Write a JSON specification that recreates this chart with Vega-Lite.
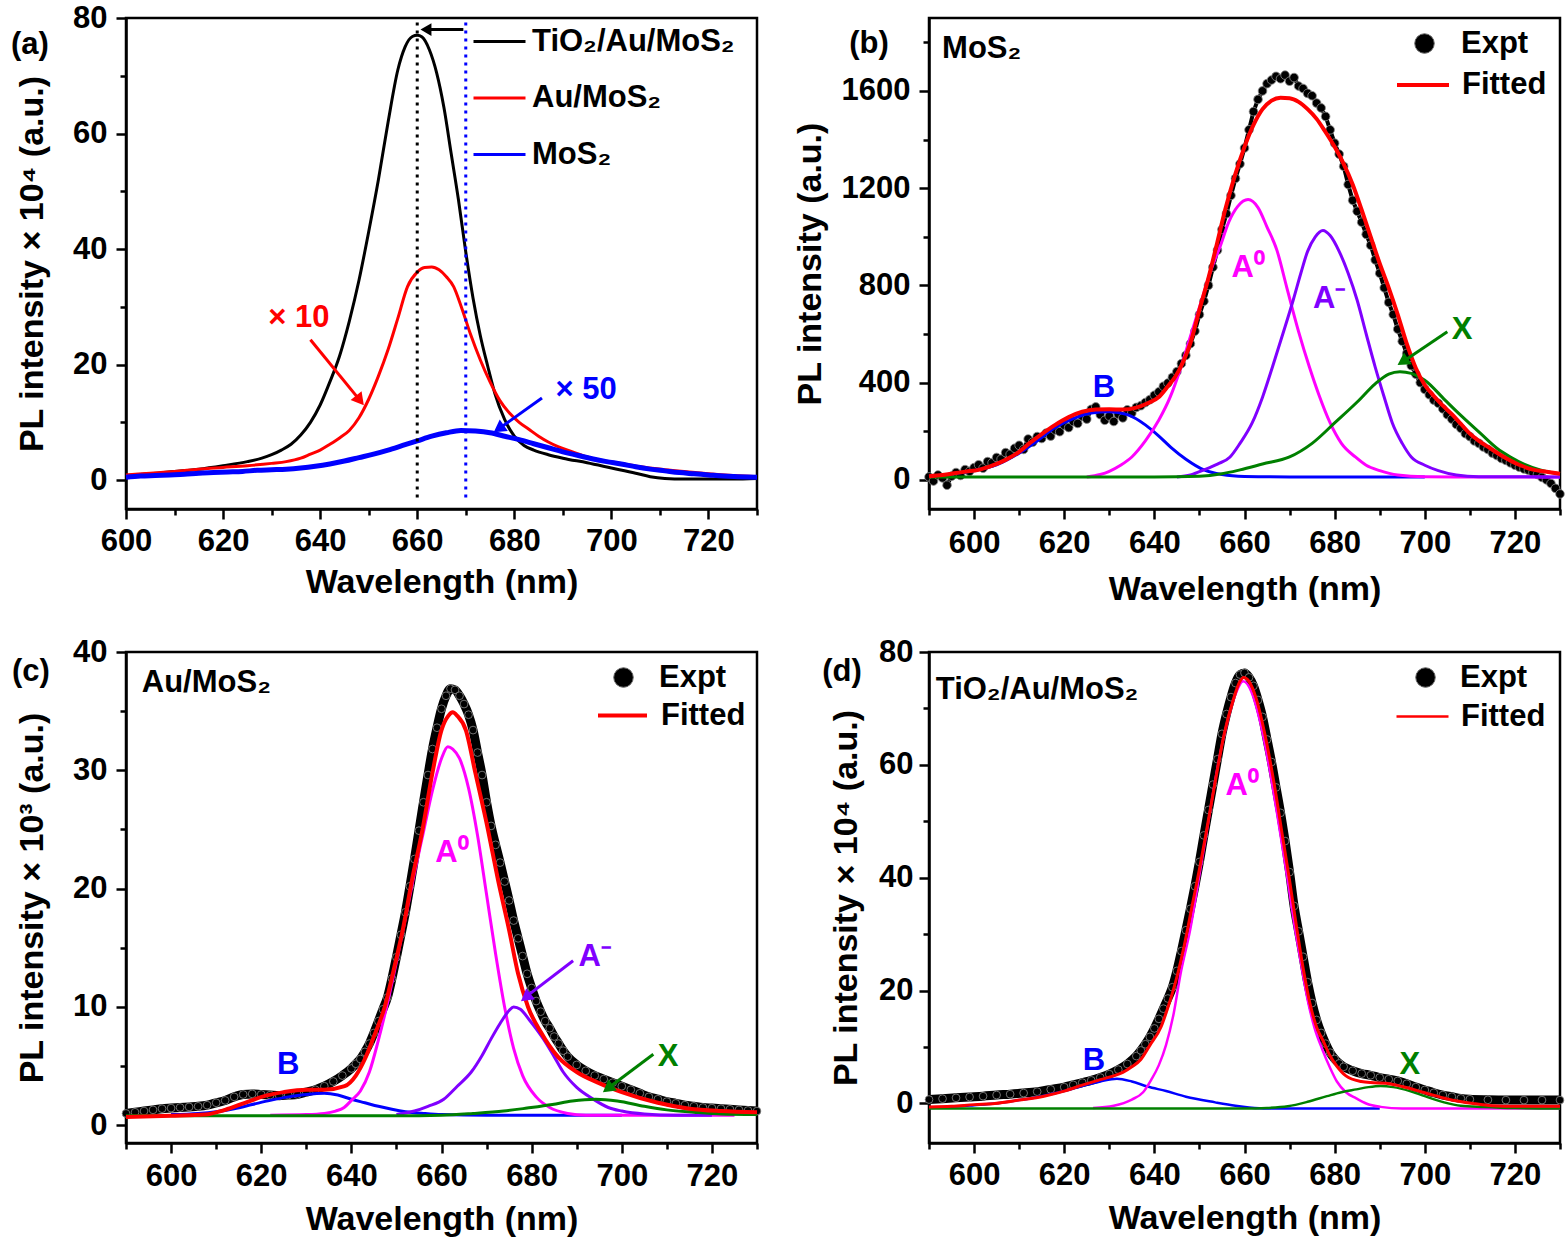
{
"$schema": "https://vega.github.io/schema/vega-lite/v6.json",
"background": "white",
"padding": {"left": 9, "top": 0, "right": 0, "bottom": 0},
"config": {
 "font": "Liberation Sans",
 "view": {"stroke": "black", "strokeWidth": 2.5},
 "axis": {"domainColor": "black", "domainWidth": 2.5, "tickColor": "black", "tickWidth": 2.5, "tickSize": 10, "labelFont": "Liberation Sans", "labelFontWeight": "bold", "labelFontSize": 31, "labelColor": "black", "titleFont": "Liberation Sans", "titleFontWeight": "bold", "titleColor": "black", "grid": false, "labelFlush": false, "labelOverlap": false},
 "axisX": {"titleFontSize": 34},
 "axisY": {"titleFontSize": 34},
 "legend": {"labelFont": "Liberation Sans", "labelFontWeight": "bold", "labelFontSize": 31, "labelColor": "black", "labelLimit": 400, "padding": 0},
 "text": {"font": "Liberation Sans", "fontWeight": "bold", "fontSize": 31}
},
"datasets": {
 "a_lines": [
  {"wl":600,"val":0.8,"sample":"TiO₂/Au/MoS₂"},{"wl":605,"val":1.1,"sample":"TiO₂/Au/MoS₂"},{"wl":610,"val":1.5,"sample":"TiO₂/Au/MoS₂"},{"wl":615,"val":1.9,"sample":"TiO₂/Au/MoS₂"},{"wl":620,"val":2.5,"sample":"TiO₂/Au/MoS₂"},{"wl":625,"val":3.2,"sample":"TiO₂/Au/MoS₂"},{"wl":628,"val":3.8,"sample":"TiO₂/Au/MoS₂"},{"wl":630,"val":4.4,"sample":"TiO₂/Au/MoS₂"},{"wl":632,"val":5.2,"sample":"TiO₂/Au/MoS₂"},{"wl":634,"val":6.2,"sample":"TiO₂/Au/MoS₂"},{"wl":636,"val":7.8,"sample":"TiO₂/Au/MoS₂"},{"wl":638,"val":10.0,"sample":"TiO₂/Au/MoS₂"},{"wl":640,"val":13.0,"sample":"TiO₂/Au/MoS₂"},{"wl":642,"val":17.0,"sample":"TiO₂/Au/MoS₂"},{"wl":644,"val":21.5,"sample":"TiO₂/Au/MoS₂"},{"wl":646,"val":27.5,"sample":"TiO₂/Au/MoS₂"},{"wl":648,"val":34.6,"sample":"TiO₂/Au/MoS₂"},{"wl":650,"val":43.0,"sample":"TiO₂/Au/MoS₂"},{"wl":652,"val":52.0,"sample":"TiO₂/Au/MoS₂"},{"wl":654,"val":62.0,"sample":"TiO₂/Au/MoS₂"},{"wl":656,"val":71.0,"sample":"TiO₂/Au/MoS₂"},{"wl":657.5,"val":75.0,"sample":"TiO₂/Au/MoS₂"},{"wl":659,"val":76.8,"sample":"TiO₂/Au/MoS₂"},{"wl":660,"val":77.0,"sample":"TiO₂/Au/MoS₂"},{"wl":661,"val":76.7,"sample":"TiO₂/Au/MoS₂"},{"wl":662.5,"val":74.5,"sample":"TiO₂/Au/MoS₂"},{"wl":664,"val":70.5,"sample":"TiO₂/Au/MoS₂"},{"wl":665.5,"val":64.5,"sample":"TiO₂/Au/MoS₂"},{"wl":667,"val":56.5,"sample":"TiO₂/Au/MoS₂"},{"wl":668.5,"val":48.5,"sample":"TiO₂/Au/MoS₂"},{"wl":670,"val":39.5,"sample":"TiO₂/Au/MoS₂"},{"wl":671.5,"val":31.5,"sample":"TiO₂/Au/MoS₂"},{"wl":673,"val":25.0,"sample":"TiO₂/Au/MoS₂"},{"wl":674.5,"val":19.8,"sample":"TiO₂/Au/MoS₂"},{"wl":676,"val":15.0,"sample":"TiO₂/Au/MoS₂"},{"wl":678,"val":10.5,"sample":"TiO₂/Au/MoS₂"},{"wl":680,"val":7.6,"sample":"TiO₂/Au/MoS₂"},{"wl":682,"val":6.0,"sample":"TiO₂/Au/MoS₂"},{"wl":684,"val":5.2,"sample":"TiO₂/Au/MoS₂"},{"wl":687,"val":4.4,"sample":"TiO₂/Au/MoS₂"},{"wl":690,"val":3.8,"sample":"TiO₂/Au/MoS₂"},{"wl":695,"val":3.0,"sample":"TiO₂/Au/MoS₂"},{"wl":700,"val":2.1,"sample":"TiO₂/Au/MoS₂"},{"wl":705,"val":1.2,"sample":"TiO₂/Au/MoS₂"},{"wl":708,"val":0.6,"sample":"TiO₂/Au/MoS₂"},{"wl":711,"val":0.3,"sample":"TiO₂/Au/MoS₂"},{"wl":715,"val":0.2,"sample":"TiO₂/Au/MoS₂"},{"wl":720,"val":0.2,"sample":"TiO₂/Au/MoS₂"},{"wl":725,"val":0.2,"sample":"TiO₂/Au/MoS₂"},{"wl":730,"val":0.3,"sample":"TiO₂/Au/MoS₂"},
  {"wl":600,"val":0.9,"sample":"Au/MoS₂"},{"wl":605,"val":1.2,"sample":"Au/MoS₂"},{"wl":610,"val":1.5,"sample":"Au/MoS₂"},{"wl":615,"val":1.9,"sample":"Au/MoS₂"},{"wl":620,"val":2.2,"sample":"Au/MoS₂"},{"wl":625,"val":2.5,"sample":"Au/MoS₂"},{"wl":630,"val":2.9,"sample":"Au/MoS₂"},{"wl":633,"val":3.2,"sample":"Au/MoS₂"},{"wl":636,"val":3.8,"sample":"Au/MoS₂"},{"wl":638,"val":4.5,"sample":"Au/MoS₂"},{"wl":640,"val":5.2,"sample":"Au/MoS₂"},{"wl":642,"val":6.2,"sample":"Au/MoS₂"},{"wl":644,"val":7.3,"sample":"Au/MoS₂"},{"wl":646,"val":8.6,"sample":"Au/MoS₂"},{"wl":648,"val":10.8,"sample":"Au/MoS₂"},{"wl":650,"val":14.0,"sample":"Au/MoS₂"},{"wl":652,"val":18.0,"sample":"Au/MoS₂"},{"wl":654,"val":22.6,"sample":"Au/MoS₂"},{"wl":656,"val":28.0,"sample":"Au/MoS₂"},{"wl":658,"val":33.5,"sample":"Au/MoS₂"},{"wl":660,"val":36.0,"sample":"Au/MoS₂"},{"wl":661.5,"val":36.8,"sample":"Au/MoS₂"},{"wl":663,"val":36.9,"sample":"Au/MoS₂"},{"wl":664.5,"val":36.4,"sample":"Au/MoS₂"},{"wl":666,"val":35.2,"sample":"Au/MoS₂"},{"wl":667.5,"val":33.5,"sample":"Au/MoS₂"},{"wl":669,"val":30.2,"sample":"Au/MoS₂"},{"wl":671,"val":25.2,"sample":"Au/MoS₂"},{"wl":673,"val":20.8,"sample":"Au/MoS₂"},{"wl":675,"val":17.0,"sample":"Au/MoS₂"},{"wl":677,"val":13.8,"sample":"Au/MoS₂"},{"wl":679,"val":11.6,"sample":"Au/MoS₂"},{"wl":681,"val":10.0,"sample":"Au/MoS₂"},{"wl":683,"val":8.8,"sample":"Au/MoS₂"},{"wl":685,"val":7.6,"sample":"Au/MoS₂"},{"wl":687,"val":6.6,"sample":"Au/MoS₂"},{"wl":689,"val":5.8,"sample":"Au/MoS₂"},{"wl":692,"val":4.9,"sample":"Au/MoS₂"},{"wl":695,"val":4.0,"sample":"Au/MoS₂"},{"wl":698,"val":3.4,"sample":"Au/MoS₂"},{"wl":702,"val":2.9,"sample":"Au/MoS₂"},{"wl":706,"val":2.3,"sample":"Au/MoS₂"},{"wl":711,"val":1.8,"sample":"Au/MoS₂"},{"wl":716,"val":1.4,"sample":"Au/MoS₂"},{"wl":720,"val":1.1,"sample":"Au/MoS₂"},{"wl":725,"val":0.8,"sample":"Au/MoS₂"},{"wl":730,"val":0.6,"sample":"Au/MoS₂"},
  {"wl":600,"val":0.5,"sample":"MoS₂"},{"wl":603,"val":0.7,"sample":"MoS₂"},{"wl":606,"val":0.8,"sample":"MoS₂"},{"wl":609,"val":0.9,"sample":"MoS₂"},{"wl":612,"val":1.0,"sample":"MoS₂"},{"wl":615,"val":1.2,"sample":"MoS₂"},{"wl":618,"val":1.3,"sample":"MoS₂"},{"wl":621,"val":1.4,"sample":"MoS₂"},{"wl":624,"val":1.5,"sample":"MoS₂"},{"wl":627,"val":1.7,"sample":"MoS₂"},{"wl":630,"val":1.8,"sample":"MoS₂"},{"wl":633,"val":1.9,"sample":"MoS₂"},{"wl":636,"val":2.1,"sample":"MoS₂"},{"wl":639,"val":2.4,"sample":"MoS₂"},{"wl":642,"val":2.8,"sample":"MoS₂"},{"wl":645,"val":3.3,"sample":"MoS₂"},{"wl":648,"val":3.9,"sample":"MoS₂"},{"wl":651,"val":4.5,"sample":"MoS₂"},{"wl":654,"val":5.2,"sample":"MoS₂"},{"wl":657,"val":6.0,"sample":"MoS₂"},{"wl":660,"val":6.8,"sample":"MoS₂"},{"wl":663,"val":7.6,"sample":"MoS₂"},{"wl":666,"val":8.2,"sample":"MoS₂"},{"wl":669,"val":8.6,"sample":"MoS₂"},{"wl":672,"val":8.5,"sample":"MoS₂"},{"wl":675,"val":8.2,"sample":"MoS₂"},{"wl":678,"val":7.6,"sample":"MoS₂"},{"wl":681,"val":7.0,"sample":"MoS₂"},{"wl":684,"val":6.3,"sample":"MoS₂"},{"wl":687,"val":5.6,"sample":"MoS₂"},{"wl":690,"val":4.9,"sample":"MoS₂"},{"wl":693,"val":4.3,"sample":"MoS₂"},{"wl":696,"val":3.7,"sample":"MoS₂"},{"wl":699,"val":3.2,"sample":"MoS₂"},{"wl":702,"val":2.8,"sample":"MoS₂"},{"wl":705,"val":2.3,"sample":"MoS₂"},{"wl":708,"val":1.9,"sample":"MoS₂"},{"wl":711,"val":1.6,"sample":"MoS₂"},{"wl":714,"val":1.3,"sample":"MoS₂"},{"wl":717,"val":1.1,"sample":"MoS₂"},{"wl":720,"val":0.9,"sample":"MoS₂"},{"wl":723,"val":0.7,"sample":"MoS₂"},{"wl":726,"val":0.6,"sample":"MoS₂"},{"wl":730,"val":0.5,"sample":"MoS₂"}
 ],
 "b_expt": [
  {"wl":590,"val":12},{"wl":591,"val":-5},{"wl":592,"val":20},{"wl":593,"val":8},{"wl":594,"val":-22},{"wl":595,"val":15},{"wl":596,"val":30},{"wl":597,"val":18},{"wl":598,"val":42},{"wl":599,"val":35},{"wl":600,"val":50},{"wl":601,"val":62},{"wl":602,"val":48},{"wl":603,"val":75},{"wl":604,"val":70},{"wl":605,"val":92},{"wl":606,"val":85},{"wl":607,"val":112},{"wl":608,"val":105},{"wl":609,"val":130},{"wl":610,"val":142},{"wl":611,"val":125},{"wl":612,"val":168},{"wl":613,"val":155},{"wl":614,"val":178},{"wl":615,"val":170},{"wl":616,"val":192},{"wl":617,"val":180},{"wl":618,"val":205},{"wl":619,"val":198},{"wl":620,"val":225},{"wl":621,"val":215},{"wl":622,"val":240},{"wl":623,"val":232},{"wl":624,"val":262},{"wl":625,"val":250},{"wl":626,"val":290},{"wl":627,"val":300},{"wl":628,"val":268},{"wl":629,"val":245},{"wl":630,"val":262},{"wl":631,"val":240},{"wl":632,"val":270},{"wl":633,"val":255},{"wl":634,"val":288},{"wl":635,"val":275},{"wl":636,"val":298},{"wl":637,"val":305},{"wl":638,"val":318},{"wl":639,"val":330},{"wl":640,"val":348},{"wl":641,"val":362},{"wl":642,"val":385},{"wl":643,"val":398},{"wl":644,"val":422},{"wl":645,"val":445},{"wl":646,"val":478},{"wl":647,"val":512},{"wl":648,"val":560},{"wl":649,"val":612},{"wl":650,"val":680},{"wl":651,"val":735},{"wl":652,"val":800},{"wl":653,"val":875},{"wl":654,"val":945},{"wl":655,"val":1030},{"wl":656,"val":1095},{"wl":657,"val":1170},{"wl":658,"val":1240},{"wl":659,"val":1300},{"wl":660,"val":1365},{"wl":661,"val":1440},{"wl":662,"val":1515},{"wl":663,"val":1565},{"wl":664,"val":1600},{"wl":665,"val":1630},{"wl":666,"val":1645},{"wl":667,"val":1660},{"wl":668,"val":1650},{"wl":669,"val":1665},{"wl":670,"val":1640},{"wl":671,"val":1655},{"wl":672,"val":1620},{"wl":673,"val":1610},{"wl":674,"val":1590},{"wl":675,"val":1580},{"wl":676,"val":1550},{"wl":677,"val":1530},{"wl":678,"val":1495},{"wl":679,"val":1440},{"wl":680,"val":1385},{"wl":681,"val":1340},{"wl":682,"val":1290},{"wl":683,"val":1215},{"wl":684,"val":1150},{"wl":685,"val":1105},{"wl":686,"val":1060},{"wl":687,"val":1010},{"wl":688,"val":965},{"wl":689,"val":905},{"wl":690,"val":850},{"wl":691,"val":790},{"wl":692,"val":730},{"wl":693,"val":680},{"wl":694,"val":620},{"wl":695,"val":570},{"wl":696,"val":520},{"wl":697,"val":470},{"wl":698,"val":435},{"wl":699,"val":400},{"wl":700,"val":372},{"wl":701,"val":350},{"wl":702,"val":328},{"wl":703,"val":315},{"wl":704,"val":292},{"wl":705,"val":268},{"wl":706,"val":250},{"wl":707,"val":228},{"wl":708,"val":212},{"wl":709,"val":190},{"wl":710,"val":178},{"wl":711,"val":160},{"wl":712,"val":150},{"wl":713,"val":135},{"wl":714,"val":125},{"wl":715,"val":110},{"wl":716,"val":100},{"wl":717,"val":88},{"wl":718,"val":80},{"wl":719,"val":70},{"wl":720,"val":60},{"wl":721,"val":52},{"wl":722,"val":45},{"wl":723,"val":40},{"wl":724,"val":30},{"wl":725,"val":22},{"wl":726,"val":10},{"wl":727,"val":0},{"wl":728,"val":-15},{"wl":729,"val":-35},{"wl":730,"val":-58}
 ],
 "b_fit": [
  {"wl":590,"val":15,"comp":"Fitted"},{"wl":593,"val":20,"comp":"Fitted"},{"wl":596,"val":28,"comp":"Fitted"},{"wl":599,"val":36,"comp":"Fitted"},{"wl":601,"val":41,"comp":"Fitted"},{"wl":604,"val":58,"comp":"Fitted"},{"wl":607,"val":82,"comp":"Fitted"},{"wl":610,"val":115,"comp":"Fitted"},{"wl":612.4,"val":152,"comp":"Fitted"},{"wl":615,"val":188,"comp":"Fitted"},{"wl":618,"val":226,"comp":"Fitted"},{"wl":621,"val":258,"comp":"Fitted"},{"wl":624,"val":280,"comp":"Fitted"},{"wl":627,"val":289,"comp":"Fitted"},{"wl":630,"val":290,"comp":"Fitted"},{"wl":633,"val":289,"comp":"Fitted"},{"wl":636,"val":297,"comp":"Fitted"},{"wl":638.5,"val":315,"comp":"Fitted"},{"wl":641,"val":341,"comp":"Fitted"},{"wl":643,"val":385,"comp":"Fitted"},{"wl":644.6,"val":423,"comp":"Fitted"},{"wl":646.5,"val":490,"comp":"Fitted"},{"wl":648,"val":562,"comp":"Fitted"},{"wl":650,"val":700,"comp":"Fitted"},{"wl":652,"val":830,"comp":"Fitted"},{"wl":654,"val":980,"comp":"Fitted"},{"wl":655.7,"val":1110,"comp":"Fitted"},{"wl":658,"val":1260,"comp":"Fitted"},{"wl":660,"val":1370,"comp":"Fitted"},{"wl":662,"val":1460,"comp":"Fitted"},{"wl":664,"val":1525,"comp":"Fitted"},{"wl":666,"val":1560,"comp":"Fitted"},{"wl":668,"val":1572,"comp":"Fitted"},{"wl":670,"val":1570,"comp":"Fitted"},{"wl":672,"val":1555,"comp":"Fitted"},{"wl":674,"val":1525,"comp":"Fitted"},{"wl":676,"val":1485,"comp":"Fitted"},{"wl":678,"val":1430,"comp":"Fitted"},{"wl":680,"val":1370,"comp":"Fitted"},{"wl":682,"val":1300,"comp":"Fitted"},{"wl":684,"val":1215,"comp":"Fitted"},{"wl":686,"val":1110,"comp":"Fitted"},{"wl":688,"val":1000,"comp":"Fitted"},{"wl":690,"val":890,"comp":"Fitted"},{"wl":692,"val":790,"comp":"Fitted"},{"wl":694,"val":680,"comp":"Fitted"},{"wl":696,"val":560,"comp":"Fitted"},{"wl":698,"val":460,"comp":"Fitted"},{"wl":700,"val":390,"comp":"Fitted"},{"wl":702,"val":345,"comp":"Fitted"},{"wl":704,"val":305,"comp":"Fitted"},{"wl":706,"val":270,"comp":"Fitted"},{"wl":708,"val":230,"comp":"Fitted"},{"wl":710,"val":190,"comp":"Fitted"},{"wl":712,"val":160,"comp":"Fitted"},{"wl":714.5,"val":130,"comp":"Fitted"},{"wl":717,"val":100,"comp":"Fitted"},{"wl":720.9,"val":62,"comp":"Fitted"},{"wl":724,"val":42,"comp":"Fitted"},{"wl":727,"val":33,"comp":"Fitted"},{"wl":730,"val":25,"comp":"Fitted"},
  {"wl":590,"val":14,"comp":"B"},{"wl":595,"val":24,"comp":"B"},{"wl":600,"val":38,"comp":"B"},{"wl":605,"val":62,"comp":"B"},{"wl":610,"val":110,"comp":"B"},{"wl":614,"val":160,"comp":"B"},{"wl":618,"val":215,"comp":"B"},{"wl":622,"val":252,"comp":"B"},{"wl":626,"val":275,"comp":"B"},{"wl":630,"val":280,"comp":"B"},{"wl":634,"val":268,"comp":"B"},{"wl":638,"val":226,"comp":"B"},{"wl":641,"val":180,"comp":"B"},{"wl":643.6,"val":135,"comp":"B"},{"wl":647,"val":85,"comp":"B"},{"wl":651,"val":41,"comp":"B"},{"wl":655,"val":22,"comp":"B"},{"wl":660,"val":14,"comp":"B"},{"wl":670,"val":12,"comp":"B"},{"wl":700,"val":12,"comp":"B"},
  {"wl":625,"val":12,"comp":"A⁰"},{"wl":628,"val":22,"comp":"A⁰"},{"wl":630,"val":35,"comp":"A⁰"},{"wl":632.5,"val":60,"comp":"A⁰"},{"wl":635,"val":94,"comp":"A⁰"},{"wl":638,"val":160,"comp":"A⁰"},{"wl":641,"val":246,"comp":"A⁰"},{"wl":643.5,"val":340,"comp":"A⁰"},{"wl":645.7,"val":452,"comp":"A⁰"},{"wl":648,"val":590,"comp":"A⁰"},{"wl":650.5,"val":739,"comp":"A⁰"},{"wl":652.5,"val":860,"comp":"A⁰"},{"wl":654.6,"val":960,"comp":"A⁰"},{"wl":656.5,"val":1060,"comp":"A⁰"},{"wl":658.5,"val":1125,"comp":"A⁰"},{"wl":660.8,"val":1153,"comp":"A⁰"},{"wl":663,"val":1120,"comp":"A⁰"},{"wl":665,"val":1040,"comp":"A⁰"},{"wl":667.2,"val":944,"comp":"A⁰"},{"wl":669.4,"val":790,"comp":"A⁰"},{"wl":672,"val":610,"comp":"A⁰"},{"wl":674.4,"val":464,"comp":"A⁰"},{"wl":676.5,"val":350,"comp":"A⁰"},{"wl":679,"val":234,"comp":"A⁰"},{"wl":681.5,"val":150,"comp":"A⁰"},{"wl":684.6,"val":94,"comp":"A⁰"},{"wl":687,"val":60,"comp":"A⁰"},{"wl":690,"val":38,"comp":"A⁰"},{"wl":694,"val":20,"comp":"A⁰"},{"wl":700,"val":13,"comp":"A⁰"},{"wl":710,"val":12,"comp":"A⁰"},{"wl":730,"val":12,"comp":"A⁰"},
  {"wl":645,"val":12,"comp":"A⁻"},{"wl":648,"val":20,"comp":"A⁻"},{"wl":651,"val":41,"comp":"A⁻"},{"wl":654,"val":65,"comp":"A⁻"},{"wl":656.8,"val":94,"comp":"A⁻"},{"wl":659,"val":150,"comp":"A⁻"},{"wl":661.7,"val":234,"comp":"A⁻"},{"wl":664,"val":340,"comp":"A⁻"},{"wl":666.2,"val":464,"comp":"A⁻"},{"wl":668.5,"val":600,"comp":"A⁻"},{"wl":670.8,"val":739,"comp":"A⁻"},{"wl":672.5,"val":850,"comp":"A⁻"},{"wl":674,"val":940,"comp":"A⁻"},{"wl":675.7,"val":1000,"comp":"A⁻"},{"wl":677.4,"val":1026,"comp":"A⁻"},{"wl":679,"val":1005,"comp":"A⁻"},{"wl":681,"val":940,"comp":"A⁻"},{"wl":683,"val":850,"comp":"A⁻"},{"wl":685,"val":739,"comp":"A⁻"},{"wl":687,"val":600,"comp":"A⁻"},{"wl":689,"val":464,"comp":"A⁻"},{"wl":691,"val":340,"comp":"A⁻"},{"wl":692.8,"val":234,"comp":"A⁻"},{"wl":695,"val":150,"comp":"A⁻"},{"wl":697,"val":94,"comp":"A⁻"},{"wl":700,"val":60,"comp":"A⁻"},{"wl":703,"val":38,"comp":"A⁻"},{"wl":707,"val":20,"comp":"A⁻"},{"wl":712,"val":13,"comp":"A⁻"},{"wl":730,"val":12,"comp":"A⁻"},
  {"wl":590,"val":12,"comp":"X"},{"wl":640,"val":12,"comp":"X"},{"wl":650,"val":15,"comp":"X"},{"wl":655,"val":25,"comp":"X"},{"wl":659,"val":41,"comp":"X"},{"wl":664,"val":65,"comp":"X"},{"wl":670,"val":94,"comp":"X"},{"wl":675,"val":150,"comp":"X"},{"wl":680,"val":234,"comp":"X"},{"wl":685,"val":320,"comp":"X"},{"wl":689,"val":395,"comp":"X"},{"wl":692,"val":435,"comp":"X"},{"wl":694.5,"val":445,"comp":"X"},{"wl":697,"val":438,"comp":"X"},{"wl":700,"val":410,"comp":"X"},{"wl":704.5,"val":328,"comp":"X"},{"wl":708,"val":265,"comp":"X"},{"wl":712.3,"val":192,"comp":"X"},{"wl":716,"val":130,"comp":"X"},{"wl":719,"val":94,"comp":"X"},{"wl":722,"val":65,"comp":"X"},{"wl":725.6,"val":41,"comp":"X"},{"wl":728,"val":30,"comp":"X"},{"wl":730,"val":25,"comp":"X"}
 ],
 "c_expt": [
  {"wl":590,"val":1.0},{"wl":592,"val":1.1},{"wl":594,"val":1.2},{"wl":596,"val":1.3},{"wl":598,"val":1.4},{"wl":600,"val":1.45},{"wl":602,"val":1.5},{"wl":604,"val":1.55},{"wl":606,"val":1.6},{"wl":608,"val":1.7},{"wl":610,"val":1.9},{"wl":612,"val":2.1},{"wl":614,"val":2.4},{"wl":616,"val":2.6},{"wl":618,"val":2.65},{"wl":620,"val":2.6},{"wl":622,"val":2.55},{"wl":624,"val":2.5},{"wl":626,"val":2.55},{"wl":628,"val":2.6},{"wl":630,"val":2.8},{"wl":632,"val":3.0},{"wl":634,"val":3.3},{"wl":636,"val":3.7},{"wl":638,"val":4.2},{"wl":640,"val":4.8},{"wl":641,"val":5.2},{"wl":642,"val":5.6},{"wl":643,"val":6.2},{"wl":644,"val":6.9},{"wl":645,"val":7.8},{"wl":646,"val":8.8},{"wl":647,"val":9.8},{"wl":648,"val":10.8},{"wl":649,"val":12.4},{"wl":650,"val":14.2},{"wl":651,"val":16.1},{"wl":652,"val":18.0},{"wl":653,"val":20.2},{"wl":654,"val":22.5},{"wl":655,"val":24.9},{"wl":656,"val":27.3},{"wl":657,"val":29.6},{"wl":658,"val":31.8},{"wl":659,"val":33.6},{"wl":660,"val":35.2},{"wl":661,"val":36.3},{"wl":662,"val":36.9},{"wl":663,"val":36.8},{"wl":664,"val":36.3},{"wl":665,"val":35.6},{"wl":666,"val":34.7},{"wl":667,"val":33.4},{"wl":668,"val":31.5},{"wl":669,"val":29.6},{"wl":670,"val":27.3},{"wl":671,"val":25.3},{"wl":672,"val":23.7},{"wl":673,"val":22.2},{"wl":674,"val":20.6},{"wl":675,"val":19.0},{"wl":676,"val":17.3},{"wl":677,"val":15.8},{"wl":678,"val":14.3},{"wl":679,"val":12.8},{"wl":680,"val":11.6},{"wl":681,"val":10.5},{"wl":682,"val":9.6},{"wl":683,"val":8.8},{"wl":684,"val":8.2},{"wl":685,"val":7.5},{"wl":686,"val":6.9},{"wl":687,"val":6.3},{"wl":688,"val":5.8},{"wl":690,"val":5.1},{"wl":692,"val":4.6},{"wl":694,"val":4.2},{"wl":696,"val":3.9},{"wl":698,"val":3.6},{"wl":700,"val":3.3},{"wl":702,"val":3.0},{"wl":704,"val":2.7},{"wl":706,"val":2.4},{"wl":708,"val":2.2},{"wl":710,"val":2.0},{"wl":712,"val":1.85},{"wl":714,"val":1.7},{"wl":716,"val":1.6},{"wl":718,"val":1.5},{"wl":720,"val":1.45},{"wl":722,"val":1.4},{"wl":724,"val":1.35},{"wl":726,"val":1.3},{"wl":728,"val":1.25},{"wl":730,"val":1.2}
 ],
 "c_fit": [
  {"wl":590,"val":0.7,"comp":"Fitted"},{"wl":600,"val":0.8,"comp":"Fitted"},{"wl":607.5,"val":0.9,"comp":"Fitted"},{"wl":612,"val":1.3,"comp":"Fitted"},{"wl":616.4,"val":1.9,"comp":"Fitted"},{"wl":621,"val":2.5,"comp":"Fitted"},{"wl":625,"val":2.8,"comp":"Fitted"},{"wl":630,"val":3.0,"comp":"Fitted"},{"wl":634,"val":3.0,"comp":"Fitted"},{"wl":638.5,"val":3.3,"comp":"Fitted"},{"wl":641,"val":4.2,"comp":"Fitted"},{"wl":643,"val":5.6,"comp":"Fitted"},{"wl":645,"val":7.5,"comp":"Fitted"},{"wl":647.4,"val":10.0,"comp":"Fitted"},{"wl":649.5,"val":13.3,"comp":"Fitted"},{"wl":651.4,"val":16.5,"comp":"Fitted"},{"wl":653.5,"val":20.8,"comp":"Fitted"},{"wl":655.8,"val":25.0,"comp":"Fitted"},{"wl":658,"val":29.8,"comp":"Fitted"},{"wl":660,"val":33.4,"comp":"Fitted"},{"wl":661.5,"val":34.6,"comp":"Fitted"},{"wl":662.5,"val":34.9,"comp":"Fitted"},{"wl":663.5,"val":34.6,"comp":"Fitted"},{"wl":665.4,"val":33.4,"comp":"Fitted"},{"wl":667.5,"val":29.8,"comp":"Fitted"},{"wl":670.3,"val":25.0,"comp":"Fitted"},{"wl":672.5,"val":20.8,"comp":"Fitted"},{"wl":675,"val":16.5,"comp":"Fitted"},{"wl":677,"val":12.8,"comp":"Fitted"},{"wl":679.2,"val":10.0,"comp":"Fitted"},{"wl":682,"val":7.9,"comp":"Fitted"},{"wl":685.8,"val":5.8,"comp":"Fitted"},{"wl":690,"val":4.5,"comp":"Fitted"},{"wl":694.7,"val":3.6,"comp":"Fitted"},{"wl":700,"val":2.8,"comp":"Fitted"},{"wl":708,"val":1.9,"comp":"Fitted"},{"wl":715,"val":1.4,"comp":"Fitted"},{"wl":722,"val":1.2,"comp":"Fitted"},{"wl":730,"val":1.1,"comp":"Fitted"},
  {"wl":600,"val":0.9,"comp":"B"},{"wl":606,"val":1.0,"comp":"B"},{"wl":610,"val":1.15,"comp":"B"},{"wl":614,"val":1.4,"comp":"B"},{"wl":618,"val":1.75,"comp":"B"},{"wl":622,"val":2.1,"comp":"B"},{"wl":626,"val":2.4,"comp":"B"},{"wl":630,"val":2.6,"comp":"B"},{"wl":634,"val":2.7,"comp":"B"},{"wl":637,"val":2.55,"comp":"B"},{"wl":640,"val":2.2,"comp":"B"},{"wl":643,"val":1.9,"comp":"B"},{"wl":646,"val":1.6,"comp":"B"},{"wl":649,"val":1.35,"comp":"B"},{"wl":652,"val":1.15,"comp":"B"},{"wl":656,"val":1.0,"comp":"B"},{"wl":660,"val":0.9,"comp":"B"},{"wl":670,"val":0.85,"comp":"B"},{"wl":700,"val":0.85,"comp":"B"},
  {"wl":622,"val":0.85,"comp":"A⁰"},{"wl":630,"val":0.9,"comp":"A⁰"},{"wl":634,"val":1.0,"comp":"A⁰"},{"wl":636.5,"val":1.2,"comp":"A⁰"},{"wl":638.4,"val":1.5,"comp":"A⁰"},{"wl":640,"val":2.1,"comp":"A⁰"},{"wl":642,"val":2.9,"comp":"A⁰"},{"wl":644,"val":4.5,"comp":"A⁰"},{"wl":646,"val":7.2,"comp":"A⁰"},{"wl":648,"val":10.3,"comp":"A⁰"},{"wl":650,"val":13.8,"comp":"A⁰"},{"wl":652,"val":17.5,"comp":"A⁰"},{"wl":654,"val":21.3,"comp":"A⁰"},{"wl":656,"val":24.8,"comp":"A⁰"},{"wl":658,"val":28.3,"comp":"A⁰"},{"wl":660,"val":31.0,"comp":"A⁰"},{"wl":661.4,"val":32.0,"comp":"A⁰"},{"wl":662.5,"val":31.8,"comp":"A⁰"},{"wl":664,"val":31.0,"comp":"A⁰"},{"wl":666,"val":28.5,"comp":"A⁰"},{"wl":668,"val":24.5,"comp":"A⁰"},{"wl":670,"val":19.5,"comp":"A⁰"},{"wl":672,"val":14.5,"comp":"A⁰"},{"wl":674,"val":10.0,"comp":"A⁰"},{"wl":676,"val":6.5,"comp":"A⁰"},{"wl":678,"val":4.2,"comp":"A⁰"},{"wl":681,"val":2.4,"comp":"A⁰"},{"wl":684,"val":1.5,"comp":"A⁰"},{"wl":688,"val":1.0,"comp":"A⁰"},{"wl":692,"val":0.85,"comp":"A⁰"},{"wl":725,"val":0.85,"comp":"A⁰"},
  {"wl":650,"val":0.9,"comp":"A⁻"},{"wl":654,"val":1.2,"comp":"A⁻"},{"wl":657,"val":1.6,"comp":"A⁻"},{"wl":660.5,"val":2.2,"comp":"A⁻"},{"wl":663.5,"val":3.3,"comp":"A⁻"},{"wl":666.6,"val":4.5,"comp":"A⁻"},{"wl":669,"val":5.9,"comp":"A⁻"},{"wl":671,"val":7.3,"comp":"A⁻"},{"wl":673,"val":8.6,"comp":"A⁻"},{"wl":675,"val":9.7,"comp":"A⁻"},{"wl":676,"val":10.0,"comp":"A⁻"},{"wl":677.5,"val":9.8,"comp":"A⁻"},{"wl":679.5,"val":8.9,"comp":"A⁻"},{"wl":682.6,"val":7.3,"comp":"A⁻"},{"wl":685,"val":5.8,"comp":"A⁻"},{"wl":687,"val":4.5,"comp":"A⁻"},{"wl":690,"val":3.2,"comp":"A⁻"},{"wl":693.7,"val":2.2,"comp":"A⁻"},{"wl":697,"val":1.5,"comp":"A⁻"},{"wl":700,"val":1.2,"comp":"A⁻"},{"wl":705,"val":0.95,"comp":"A⁻"},{"wl":712,"val":0.85,"comp":"A⁻"},{"wl":720,"val":0.85,"comp":"A⁻"},
  {"wl":590,"val":0.8,"comp":"X"},{"wl":650,"val":0.8,"comp":"X"},{"wl":660,"val":0.85,"comp":"X"},{"wl":667,"val":1.0,"comp":"X"},{"wl":673.8,"val":1.2,"comp":"X"},{"wl":679,"val":1.45,"comp":"X"},{"wl":684.6,"val":1.75,"comp":"X"},{"wl":689,"val":2.05,"comp":"X"},{"wl":694.2,"val":2.2,"comp":"X"},{"wl":699,"val":2.05,"comp":"X"},{"wl":705,"val":1.6,"comp":"X"},{"wl":710,"val":1.3,"comp":"X"},{"wl":716,"val":1.1,"comp":"X"},{"wl":722,"val":0.95,"comp":"X"},{"wl":730,"val":0.9,"comp":"X"}
 ],
 "d_expt": [
  {"wl":590,"val":0.7},{"wl":593,"val":0.85},{"wl":596,"val":1.0},{"wl":599,"val":1.15},{"wl":602,"val":1.3},{"wl":605,"val":1.5},{"wl":608,"val":1.65},{"wl":611,"val":1.85},{"wl":614,"val":2.1},{"wl":617,"val":2.5},{"wl":620,"val":2.9},{"wl":622,"val":3.3},{"wl":624,"val":3.7},{"wl":626,"val":4.1},{"wl":628,"val":4.6},{"wl":630,"val":5.2},{"wl":632,"val":6.0},{"wl":634,"val":7.0},{"wl":636,"val":8.4},{"wl":637,"val":9.4},{"wl":638,"val":10.5},{"wl":639,"val":11.8},{"wl":640,"val":13.3},{"wl":641,"val":15.0},{"wl":642,"val":16.8},{"wl":643,"val":18.6},{"wl":644,"val":20.6},{"wl":645,"val":23.5},{"wl":646,"val":27.0},{"wl":647,"val":30.7},{"wl":648,"val":34.5},{"wl":649,"val":38.5},{"wl":650,"val":42.8},{"wl":651,"val":47.5},{"wl":652,"val":52.0},{"wl":653,"val":56.5},{"wl":654,"val":61.0},{"wl":655,"val":65.5},{"wl":656,"val":69.0},{"wl":657,"val":72.0},{"wl":658,"val":74.5},{"wl":659,"val":76.0},{"wl":660,"val":76.3},{"wl":661,"val":75.5},{"wl":662,"val":74.0},{"wl":663,"val":71.5},{"wl":664,"val":68.5},{"wl":665,"val":64.5},{"wl":666,"val":60.5},{"wl":667,"val":56.0},{"wl":668,"val":51.5},{"wl":669,"val":46.5},{"wl":670,"val":41.0},{"wl":671,"val":35.0},{"wl":672,"val":30.5},{"wl":673,"val":26.0},{"wl":674,"val":21.5},{"wl":675,"val":17.8},{"wl":676,"val":14.8},{"wl":677,"val":12.5},{"wl":678,"val":10.6},{"wl":679,"val":9.0},{"wl":680,"val":7.9},{"wl":681,"val":7.1},{"wl":682,"val":6.5},{"wl":684,"val":5.8},{"wl":686,"val":5.3},{"wl":688,"val":5.0},{"wl":690,"val":4.6},{"wl":692,"val":4.3},{"wl":694,"val":4.0},{"wl":696,"val":3.5},{"wl":698,"val":2.9},{"wl":700,"val":2.4},{"wl":702,"val":1.9},{"wl":704,"val":1.5},{"wl":706,"val":1.2},{"wl":708,"val":0.9},{"wl":710,"val":0.75},{"wl":714,"val":0.65},{"wl":718,"val":0.6},{"wl":722,"val":0.6},{"wl":726,"val":0.6},{"wl":730,"val":0.6}
 ],
 "d_fit": [
  {"wl":590,"val":-0.6,"comp":"Fitted"},{"wl":595,"val":-0.5,"comp":"Fitted"},{"wl":600,"val":-0.2,"comp":"Fitted"},{"wl":604.6,"val":0.0,"comp":"Fitted"},{"wl":610,"val":0.6,"comp":"Fitted"},{"wl":615.5,"val":1.3,"comp":"Fitted"},{"wl":620,"val":2.2,"comp":"Fitted"},{"wl":624.2,"val":3.3,"comp":"Fitted"},{"wl":627.5,"val":4.1,"comp":"Fitted"},{"wl":630.6,"val":4.8,"comp":"Fitted"},{"wl":633,"val":5.5,"comp":"Fitted"},{"wl":635,"val":6.5,"comp":"Fitted"},{"wl":637,"val":7.8,"comp":"Fitted"},{"wl":639,"val":10.3,"comp":"Fitted"},{"wl":641.5,"val":13.6,"comp":"Fitted"},{"wl":643,"val":17.0,"comp":"Fitted"},{"wl":644.7,"val":21.5,"comp":"Fitted"},{"wl":646.5,"val":27.5,"comp":"Fitted"},{"wl":648.5,"val":35.5,"comp":"Fitted"},{"wl":650,"val":41.5,"comp":"Fitted"},{"wl":651.5,"val":48.0,"comp":"Fitted"},{"wl":653.5,"val":57.0,"comp":"Fitted"},{"wl":655.5,"val":65.5,"comp":"Fitted"},{"wl":657.5,"val":71.5,"comp":"Fitted"},{"wl":659,"val":74.8,"comp":"Fitted"},{"wl":659.8,"val":75.5,"comp":"Fitted"},{"wl":661,"val":74.8,"comp":"Fitted"},{"wl":662.5,"val":72.0,"comp":"Fitted"},{"wl":664.5,"val":65.5,"comp":"Fitted"},{"wl":666.5,"val":57.0,"comp":"Fitted"},{"wl":668.5,"val":47.0,"comp":"Fitted"},{"wl":670,"val":39.5,"comp":"Fitted"},{"wl":671.5,"val":31.5,"comp":"Fitted"},{"wl":673,"val":24.0,"comp":"Fitted"},{"wl":674.5,"val":17.8,"comp":"Fitted"},{"wl":676,"val":13.5,"comp":"Fitted"},{"wl":677.5,"val":11.0,"comp":"Fitted"},{"wl":679,"val":8.4,"comp":"Fitted"},{"wl":680.5,"val":6.6,"comp":"Fitted"},{"wl":682.5,"val":4.9,"comp":"Fitted"},{"wl":685.9,"val":3.9,"comp":"Fitted"},{"wl":688,"val":3.7,"comp":"Fitted"},{"wl":691.3,"val":3.6,"comp":"Fitted"},{"wl":695,"val":3.0,"comp":"Fitted"},{"wl":700,"val":1.9,"comp":"Fitted"},{"wl":705,"val":0.8,"comp":"Fitted"},{"wl":710.7,"val":0.0,"comp":"Fitted"},{"wl":715,"val":-0.4,"comp":"Fitted"},{"wl":720,"val":-0.5,"comp":"Fitted"},{"wl":730,"val":-0.5,"comp":"Fitted"},
  {"wl":590,"val":-0.8,"comp":"B"},{"wl":595,"val":-0.6,"comp":"B"},{"wl":600,"val":-0.3,"comp":"B"},{"wl":604.6,"val":0.0,"comp":"B"},{"wl":610,"val":0.6,"comp":"B"},{"wl":615,"val":1.3,"comp":"B"},{"wl":620,"val":2.2,"comp":"B"},{"wl":624,"val":3.1,"comp":"B"},{"wl":628,"val":3.9,"comp":"B"},{"wl":631.7,"val":4.4,"comp":"B"},{"wl":635,"val":3.9,"comp":"B"},{"wl":638.5,"val":3.0,"comp":"B"},{"wl":642.6,"val":2.2,"comp":"B"},{"wl":647,"val":1.2,"comp":"B"},{"wl":653.5,"val":0.2,"comp":"B"},{"wl":658,"val":-0.4,"comp":"B"},{"wl":661,"val":-0.7,"comp":"B"},{"wl":665,"val":-0.9,"comp":"B"},{"wl":690,"val":-0.9,"comp":"B"},
  {"wl":626.4,"val":-0.8,"comp":"A⁰"},{"wl":631,"val":-0.4,"comp":"A⁰"},{"wl":635,"val":0.7,"comp":"A⁰"},{"wl":637.5,"val":2.0,"comp":"A⁰"},{"wl":639.3,"val":4.2,"comp":"A⁰"},{"wl":641,"val":6.8,"comp":"A⁰"},{"wl":642.6,"val":10.4,"comp":"A⁰"},{"wl":644.3,"val":16.0,"comp":"A⁰"},{"wl":645.8,"val":22.9,"comp":"A⁰"},{"wl":648,"val":31.0,"comp":"A⁰"},{"wl":650,"val":40.5,"comp":"A⁰"},{"wl":652,"val":50.0,"comp":"A⁰"},{"wl":654,"val":59.5,"comp":"A⁰"},{"wl":656,"val":67.0,"comp":"A⁰"},{"wl":658,"val":72.5,"comp":"A⁰"},{"wl":659.7,"val":74.8,"comp":"A⁰"},{"wl":661.5,"val":73.0,"comp":"A⁰"},{"wl":663.5,"val":67.5,"comp":"A⁰"},{"wl":665.5,"val":59.5,"comp":"A⁰"},{"wl":667.5,"val":50.0,"comp":"A⁰"},{"wl":669.5,"val":40.0,"comp":"A⁰"},{"wl":671,"val":32.0,"comp":"A⁰"},{"wl":672.5,"val":25.0,"comp":"A⁰"},{"wl":674,"val":18.4,"comp":"A⁰"},{"wl":675.5,"val":13.5,"comp":"A⁰"},{"wl":677.2,"val":9.7,"comp":"A⁰"},{"wl":679,"val":6.3,"comp":"A⁰"},{"wl":680.5,"val":3.9,"comp":"A⁰"},{"wl":682.5,"val":2.0,"comp":"A⁰"},{"wl":684.8,"val":0.9,"comp":"A⁰"},{"wl":687,"val":0.0,"comp":"A⁰"},{"wl":690.2,"val":-0.6,"comp":"A⁰"},{"wl":695,"val":-0.9,"comp":"A⁰"},{"wl":730,"val":-0.9,"comp":"A⁰"},
  {"wl":590,"val":-0.9,"comp":"X"},{"wl":660,"val":-0.9,"comp":"X"},{"wl":665,"val":-0.8,"comp":"X"},{"wl":669.6,"val":-0.5,"comp":"X"},{"wl":674,"val":0.3,"comp":"X"},{"wl":678.3,"val":1.3,"comp":"X"},{"wl":681.5,"val":2.0,"comp":"X"},{"wl":684.8,"val":2.5,"comp":"X"},{"wl":687.5,"val":2.9,"comp":"X"},{"wl":690.2,"val":3.1,"comp":"X"},{"wl":693,"val":2.9,"comp":"X"},{"wl":696.7,"val":2.2,"comp":"X"},{"wl":700,"val":1.3,"comp":"X"},{"wl":704.3,"val":0.2,"comp":"X"},{"wl":708,"val":-0.4,"comp":"X"},{"wl":713,"val":-0.6,"comp":"X"},{"wl":720,"val":-0.8,"comp":"X"},{"wl":730,"val":-0.9,"comp":"X"}
 ]
},
"columns": 4,
"align": "each",
"bounds": "flush",
"spacing": {"row": 143, "column": 1},
"resolve": {"scale": {"x": "independent", "y": "independent", "color": "independent", "stroke": "independent"}, "legend": {"color": "independent", "stroke": "independent"}},
"concat": [
 {"width": 13, "height": 1, "view": {"stroke": null}, "data": {"values": [{}]}, "mark": {"type": "point", "opacity": 0}},
 {
  "width": 631, "height": 491,
  "resolve": {"axis": {"x": "independent", "y": "independent"}},
  "layer": [
   {"data": {"name": "a_lines"}, "transform": [{"filter": "datum.sample === 'TiO₂/Au/MoS₂'"}],
    "mark": {"type": "line", "strokeWidth": 3, "interpolate": "monotone"},
    "encoding": {
     "x": {"field": "wl", "type": "quantitative", "scale": {"domain": [600, 730], "nice": false, "zero": false}, "axis": {"orient": "bottom", "values": [600, 620, 640, 660, 680, 700, 720], "title": "Wavelength (nm)", "labelPadding": 7, "titlePadding": 9}},
     "y": {"field": "val", "type": "quantitative", "scale": {"domain": [-5, 80], "nice": false, "zero": false}, "axis": {"orient": "left", "values": [0, 20, 40, 60, 80], "title": "PL intensity × 10⁴ (a.u.)", "labelPadding": 9, "titlePadding": 23}},
     "color": {"field": "sample", "type": "nominal", "scale": {"domain": ["TiO₂/Au/MoS₂", "Au/MoS₂", "MoS₂"], "range": ["#000000", "#ff0000", "#0000ff"]}, "legend": {"title": null, "orient": "none", "legendX": 346, "legendY": -4, "symbolType": "stroke", "symbolSize": 2704, "symbolStrokeWidth": 3, "labelOffset": 5, "rowPadding": 13.5}}
    }},
   {"data": {"name": "a_lines"}, "transform": [{"filter": "datum.sample === 'Au/MoS₂'"}],
    "mark": {"type": "line", "strokeWidth": 3, "interpolate": "monotone"},
    "encoding": {
     "x": {"field": "wl", "type": "quantitative", "scale": {"domain": [600, 730], "nice": false, "zero": false}, "axis": null},
     "y": {"field": "val", "type": "quantitative", "scale": {"domain": [-5, 80], "nice": false, "zero": false}, "axis": null},
     "color": {"field": "sample", "type": "nominal", "scale": {"domain": ["TiO₂/Au/MoS₂", "Au/MoS₂", "MoS₂"], "range": ["#000000", "#ff0000", "#0000ff"]}, "legend": {"title": null, "orient": "none", "legendX": 346, "legendY": -4, "symbolType": "stroke", "symbolSize": 2704, "symbolStrokeWidth": 3, "labelOffset": 5, "rowPadding": 13.5}}
    }},
   {"data": {"name": "a_lines"}, "transform": [{"filter": "datum.sample === 'MoS₂'"}],
    "mark": {"type": "line", "strokeWidth": 5, "interpolate": "monotone"},
    "encoding": {
     "x": {"field": "wl", "type": "quantitative", "scale": {"domain": [600, 730], "nice": false, "zero": false}, "axis": {"orient": "bottom", "values": [610, 630, 650, 670, 690, 710, 730], "labels": false, "domain": false, "title": null, "tickSize": 6}},
     "y": {"field": "val", "type": "quantitative", "scale": {"domain": [-5, 80], "nice": false, "zero": false}, "axis": {"orient": "left", "values": [10, 30, 50, 70], "labels": false, "domain": false, "title": null, "tickSize": 6}},
     "color": {"field": "sample", "type": "nominal", "scale": {"domain": ["TiO₂/Au/MoS₂", "Au/MoS₂", "MoS₂"], "range": ["#000000", "#ff0000", "#0000ff"]}, "legend": {"title": null, "orient": "none", "legendX": 346, "legendY": -4, "symbolType": "stroke", "symbolSize": 2704, "symbolStrokeWidth": 3, "labelOffset": 5, "rowPadding": 13.5}}
    }},
   {"data": {"values": [{}]}, "mark": {"type": "rule", "color": "#000000", "strokeWidth": 3, "strokeDash": [3, 5]},
    "encoding": {"x": {"datum": 660, "type": "quantitative", "scale": {"domain": [600, 730], "nice": false, "zero": false}, "axis": null}, "y": {"datum": -3, "type": "quantitative", "scale": {"domain": [-5, 80], "nice": false, "zero": false}, "axis": null}, "y2": {"datum": 80}}},
   {"data": {"values": [{}]}, "mark": {"type": "rule", "color": "#0000ff", "strokeWidth": 3, "strokeDash": [3, 5]},
    "encoding": {"x": {"datum": 670, "type": "quantitative", "scale": {"domain": [600, 730], "nice": false, "zero": false}, "axis": null}, "y": {"datum": -3, "type": "quantitative", "scale": {"domain": [-5, 80], "nice": false, "zero": false}, "axis": null}, "y2": {"datum": 80}}},
   {"data": {"values": [{}]}, "mark": {"type": "rule", "color": "#000000", "strokeWidth": 3},
    "encoding": {"x": {"datum": 669.5, "type": "quantitative", "scale": {"domain": [600, 730], "nice": false, "zero": false}, "axis": null}, "x2": {"datum": 662}, "y": {"datum": 78, "type": "quantitative", "scale": {"domain": [-5, 80], "nice": false, "zero": false}, "axis": null}}},
   {"data": {"values": [{}]}, "mark": {"type": "point", "shape": "triangle-left", "filled": true, "color": "#000000", "size": 160, "opacity": 1},
    "encoding": {"x": {"datum": 661.8, "type": "quantitative", "scale": {"domain": [600, 730], "nice": false, "zero": false}, "axis": null}, "y": {"datum": 78, "type": "quantitative", "scale": {"domain": [-5, 80], "nice": false, "zero": false}, "axis": null}}},
   {"data": {"values": [{}]}, "mark": {"type": "rule", "color": "#ff0000", "strokeWidth": 3},
    "encoding": {"x": {"datum": 638, "type": "quantitative", "scale": {"domain": [600, 730], "nice": false, "zero": false}, "axis": null}, "x2": {"datum": 648.5}, "y": {"datum": 24.3, "type": "quantitative", "scale": {"domain": [-5, 80], "nice": false, "zero": false}, "axis": null}, "y2": {"datum": 13.5}}},
   {"data": {"values": [{}]}, "mark": {"type": "point", "shape": "triangle-up", "filled": true, "color": "#ff0000", "size": 200, "angle": 141, "opacity": 1},
    "encoding": {"x": {"datum": 648.2, "type": "quantitative", "scale": {"domain": [600, 730], "nice": false, "zero": false}, "axis": null}, "y": {"datum": 13.8, "type": "quantitative", "scale": {"domain": [-5, 80], "nice": false, "zero": false}, "axis": null}}},
   {"data": {"values": [{}]}, "mark": {"type": "rule", "color": "#0000ff", "strokeWidth": 3},
    "encoding": {"x": {"datum": 685.7, "type": "quantitative", "scale": {"domain": [600, 730], "nice": false, "zero": false}, "axis": null}, "x2": {"datum": 676.5}, "y": {"datum": 14.2, "type": "quantitative", "scale": {"domain": [-5, 80], "nice": false, "zero": false}, "axis": null}, "y2": {"datum": 8.7}}},
   {"data": {"values": [{}]}, "mark": {"type": "point", "shape": "triangle-up", "filled": true, "color": "#0000ff", "size": 200, "angle": 235, "opacity": 1},
    "encoding": {"x": {"datum": 676.8, "type": "quantitative", "scale": {"domain": [600, 730], "nice": false, "zero": false}, "axis": null}, "y": {"datum": 8.9, "type": "quantitative", "scale": {"domain": [-5, 80], "nice": false, "zero": false}, "axis": null}}},
   {"data": {"values": [{}]}, "mark": {"type": "text", "color": "#ff0000", "align": "center", "baseline": "middle"},
    "encoding": {"x": {"datum": 635.6, "type": "quantitative", "scale": {"domain": [600, 730], "nice": false, "zero": false}, "axis": null}, "y": {"datum": 28.1, "type": "quantitative", "scale": {"domain": [-5, 80], "nice": false, "zero": false}, "axis": null}, "text": {"value": "× 10"}}},
   {"data": {"values": [{}]}, "mark": {"type": "text", "color": "#0000ff", "align": "center", "baseline": "middle"},
    "encoding": {"x": {"datum": 694.8, "type": "quantitative", "scale": {"domain": [600, 730], "nice": false, "zero": false}, "axis": null}, "y": {"datum": 15.6, "type": "quantitative", "scale": {"domain": [-5, 80], "nice": false, "zero": false}, "axis": null}, "text": {"value": "× 50"}}},
   {"data": {"values": [{}]}, "mark": {"type": "text", "color": "#000000", "align": "center", "baseline": "middle"},
    "encoding": {"x": {"datum": 580.2, "type": "quantitative", "scale": {"domain": [600, 730], "nice": false, "zero": false}, "axis": null}, "y": {"datum": 75.3, "type": "quantitative", "scale": {"domain": [-5, 80], "nice": false, "zero": false}, "axis": null}, "text": {"value": "(a)"}}}
  ]
 },
 {"width": 170, "height": 1, "view": {"stroke": null}, "data": {"values": [{}]}, "mark": {"type": "point", "opacity": 0}},
 {
  "width": 631, "height": 491,
  "resolve": {"axis": {"x": "independent", "y": "independent"}},
  "layer": [
   {"data": {"name": "b_expt"}, "mark": {"type": "line", "stroke": "#000000", "strokeWidth": 4},
    "encoding": {
     "x": {"field": "wl", "type": "quantitative", "scale": {"domain": [590, 730], "nice": false, "zero": false}, "axis": {"orient": "bottom", "values": [600, 620, 640, 660, 680, 700, 720], "title": "Wavelength (nm)", "labelPadding": 9, "titlePadding": 14}},
     "y": {"field": "val", "type": "quantitative", "scale": {"domain": [-120, 1900], "nice": false, "zero": false}, "axis": {"orient": "left", "values": [0, 400, 800, 1200, 1600], "format": "d", "title": "PL intensity (a.u.)", "labelPadding": 9, "titlePadding": 14}}
    }},
   {"data": {"name": "b_expt"}, "mark": {"type": "point", "filled": true, "size": 75, "stroke": "#8c8c8c", "strokeWidth": 0.8, "opacity": 1},
    "encoding": {
     "x": {"field": "wl", "type": "quantitative", "scale": {"domain": [590, 730], "nice": false, "zero": false}, "axis": null},
     "y": {"field": "val", "type": "quantitative", "scale": {"domain": [-120, 1900], "nice": false, "zero": false}, "axis": null},
     "color": {"datum": "Expt", "type": "nominal", "scale": {"domain": ["Expt"], "range": ["#000000"]}, "legend": {"title": null, "orient": "none", "legendX": 480, "legendY": 10, "symbolType": "circle", "symbolSize": 380, "symbolFillColor": "#000000", "symbolStrokeColor": "#666666", "symbolStrokeWidth": 1, "labelOffset": 21}}
    }},
   {"data": {"name": "b_fit"}, "transform": [{"filter": "datum.comp !== 'Fitted'"}], "mark": {"type": "line", "strokeWidth": 3, "interpolate": "monotone"},
    "encoding": {
     "x": {"field": "wl", "type": "quantitative", "scale": {"domain": [590, 730], "nice": false, "zero": false}, "axis": null},
     "y": {"field": "val", "type": "quantitative", "scale": {"domain": [-120, 1900], "nice": false, "zero": false}, "axis": null},
     "stroke": {"field": "comp", "type": "nominal", "scale": {"domain": ["Fitted", "B", "A⁰", "A⁻", "X"], "range": ["#ff0000", "#0000ff", "#ff00ff", "#8000ff", "#008000"]}, "legend": {"title": null, "orient": "none", "legendX": 466, "legendY": 39, "values": ["Fitted"], "symbolType": "stroke", "symbolSize": 2704, "symbolStrokeWidth": 4, "labelOffset": 11}}
    }},
   {"data": {"name": "b_fit"}, "transform": [{"filter": "datum.comp === 'Fitted'"}], "mark": {"type": "line", "strokeWidth": 4, "interpolate": "monotone"},
    "encoding": {
     "x": {"field": "wl", "type": "quantitative", "scale": {"domain": [590, 730], "nice": false, "zero": false}, "axis": {"orient": "bottom", "values": [590, 610, 630, 650, 670, 690, 710, 730], "labels": false, "domain": false, "title": null, "tickSize": 6}},
     "y": {"field": "val", "type": "quantitative", "scale": {"domain": [-120, 1900], "nice": false, "zero": false}, "axis": {"orient": "left", "values": [200, 600, 1000, 1400, 1800], "labels": false, "domain": false, "title": null, "tickSize": 6}},
     "stroke": {"field": "comp", "type": "nominal", "scale": {"domain": ["Fitted", "B", "A⁰", "A⁻", "X"], "range": ["#ff0000", "#0000ff", "#ff00ff", "#8000ff", "#008000"]}, "legend": {"title": null, "orient": "none", "legendX": 466, "legendY": 39, "values": ["Fitted"], "symbolType": "stroke", "symbolSize": 2704, "symbolStrokeWidth": 4, "labelOffset": 11}}
    }},
   {"data": {"values": [{}]}, "mark": {"type": "rule", "color": "#008000", "strokeWidth": 3},
    "encoding": {"x": {"datum": 705, "type": "quantitative", "scale": {"domain": [590, 730], "nice": false, "zero": false}, "axis": null}, "x2": {"datum": 694.8}, "y": {"datum": 609, "type": "quantitative", "scale": {"domain": [-120, 1900], "nice": false, "zero": false}, "axis": null}, "y2": {"datum": 482}}},
   {"data": {"values": [{}]}, "mark": {"type": "point", "shape": "triangle-up", "filled": true, "color": "#008000", "size": 200, "angle": 237, "opacity": 1},
    "encoding": {"x": {"datum": 695.1, "type": "quantitative", "scale": {"domain": [590, 730], "nice": false, "zero": false}, "axis": null}, "y": {"datum": 486, "type": "quantitative", "scale": {"domain": [-120, 1900], "nice": false, "zero": false}, "axis": null}}},
   {"data": {"values": [{}]}, "mark": {"type": "text", "color": "#0000ff", "align": "center", "baseline": "middle"},
    "encoding": {"x": {"datum": 628.8, "type": "quantitative", "scale": {"domain": [590, 730], "nice": false, "zero": false}, "axis": null}, "y": {"datum": 376, "type": "quantitative", "scale": {"domain": [-120, 1900], "nice": false, "zero": false}, "axis": null}, "text": {"value": "B"}}},
   {"data": {"values": [{}]}, "mark": {"type": "text", "color": "#ff00ff", "align": "center", "baseline": "middle"},
    "encoding": {"x": {"datum": 660.8, "type": "quantitative", "scale": {"domain": [590, 730], "nice": false, "zero": false}, "axis": null}, "y": {"datum": 872, "type": "quantitative", "scale": {"domain": [-120, 1900], "nice": false, "zero": false}, "axis": null}, "text": {"value": "A⁰"}}},
   {"data": {"values": [{}]}, "mark": {"type": "text", "color": "#8000ff", "align": "center", "baseline": "middle"},
    "encoding": {"x": {"datum": 678.8, "type": "quantitative", "scale": {"domain": [590, 730], "nice": false, "zero": false}, "axis": null}, "y": {"datum": 746, "type": "quantitative", "scale": {"domain": [-120, 1900], "nice": false, "zero": false}, "axis": null}, "text": {"value": "A⁻"}}},
   {"data": {"values": [{}]}, "mark": {"type": "text", "color": "#008000", "align": "center", "baseline": "middle"},
    "encoding": {"x": {"datum": 708.3, "type": "quantitative", "scale": {"domain": [590, 730], "nice": false, "zero": false}, "axis": null}, "y": {"datum": 617, "type": "quantitative", "scale": {"domain": [-120, 1900], "nice": false, "zero": false}, "axis": null}, "text": {"value": "X"}}},
   {"data": {"values": [{}]}, "mark": {"type": "text", "color": "#000000", "align": "left", "baseline": "middle"},
    "encoding": {"x": {"datum": 592.9, "type": "quantitative", "scale": {"domain": [590, 730], "nice": false, "zero": false}, "axis": null}, "y": {"datum": 1772, "type": "quantitative", "scale": {"domain": [-120, 1900], "nice": false, "zero": false}, "axis": null}, "text": {"value": "MoS₂"}}},
   {"data": {"values": [{}]}, "mark": {"type": "text", "color": "#000000", "align": "center", "baseline": "middle"},
    "encoding": {"x": {"datum": 576.7, "type": "quantitative", "scale": {"domain": [590, 730], "nice": false, "zero": false}, "axis": null}, "y": {"datum": 1793, "type": "quantitative", "scale": {"domain": [-120, 1900], "nice": false, "zero": false}, "axis": null}, "text": {"value": "(b)"}}}
  ]
 },
 {"width": 1, "height": 1, "view": {"stroke": null}, "data": {"values": [{}]}, "mark": {"type": "point", "opacity": 0}},
 {
  "width": 631, "height": 491,
  "resolve": {"axis": {"x": "independent", "y": "independent"}},
  "layer": [
   {"data": {"name": "c_expt"}, "mark": {"type": "line", "stroke": "#000000", "strokeWidth": 9, "interpolate": "monotone"},
    "encoding": {
     "x": {"field": "wl", "type": "quantitative", "scale": {"domain": [590, 730], "nice": false, "zero": false}, "axis": {"orient": "bottom", "values": [600, 620, 640, 660, 680, 700, 720], "title": "Wavelength (nm)", "labelPadding": 8, "titlePadding": 11}},
     "y": {"field": "val", "type": "quantitative", "scale": {"domain": [-1.5, 40], "nice": false, "zero": false}, "axis": {"orient": "left", "values": [0, 10, 20, 30, 40], "title": "PL intensity × 10³ (a.u.)", "labelPadding": 9, "titlePadding": 23}}
    }},
   {"data": {"name": "c_expt"}, "mark": {"type": "point", "filled": true, "size": 60, "stroke": "#8c8c8c", "strokeWidth": 0.8, "opacity": 1},
    "encoding": {
     "x": {"field": "wl", "type": "quantitative", "scale": {"domain": [590, 730], "nice": false, "zero": false}, "axis": null},
     "y": {"field": "val", "type": "quantitative", "scale": {"domain": [-1.5, 40], "nice": false, "zero": false}, "axis": null},
     "color": {"datum": "Expt", "type": "nominal", "scale": {"domain": ["Expt"], "range": ["#000000"]}, "legend": {"title": null, "orient": "none", "legendX": 482, "legendY": 10, "symbolType": "circle", "symbolSize": 380, "symbolFillColor": "#000000", "symbolStrokeColor": "#666666", "symbolStrokeWidth": 1, "labelOffset": 20}}
    }},
   {"data": {"name": "c_fit"}, "transform": [{"filter": "datum.comp !== 'Fitted'"}], "mark": {"type": "line", "strokeWidth": 3, "interpolate": "monotone"},
    "encoding": {
     "x": {"field": "wl", "type": "quantitative", "scale": {"domain": [590, 730], "nice": false, "zero": false}, "axis": null},
     "y": {"field": "val", "type": "quantitative", "scale": {"domain": [-1.5, 40], "nice": false, "zero": false}, "axis": null},
     "stroke": {"field": "comp", "type": "nominal", "scale": {"domain": ["Fitted", "B", "A⁰", "A⁻", "X"], "range": ["#ff0000", "#0000ff", "#ff00ff", "#8000ff", "#008000"]}, "legend": {"title": null, "orient": "none", "legendX": 470, "legendY": 37, "values": ["Fitted"], "symbolType": "stroke", "symbolSize": 2401, "symbolStrokeWidth": 4, "labelOffset": 12}}
    }},
   {"data": {"name": "c_fit"}, "transform": [{"filter": "datum.comp === 'Fitted'"}], "mark": {"type": "line", "strokeWidth": 4, "interpolate": "monotone"},
    "encoding": {
     "x": {"field": "wl", "type": "quantitative", "scale": {"domain": [590, 730], "nice": false, "zero": false}, "axis": {"orient": "bottom", "values": [590, 610, 630, 650, 670, 690, 710, 730], "labels": false, "domain": false, "title": null, "tickSize": 6}},
     "y": {"field": "val", "type": "quantitative", "scale": {"domain": [-1.5, 40], "nice": false, "zero": false}, "axis": {"orient": "left", "values": [5, 15, 25, 35], "labels": false, "domain": false, "title": null, "tickSize": 6}},
     "stroke": {"field": "comp", "type": "nominal", "scale": {"domain": ["Fitted", "B", "A⁰", "A⁻", "X"], "range": ["#ff0000", "#0000ff", "#ff00ff", "#8000ff", "#008000"]}, "legend": {"title": null, "orient": "none", "legendX": 470, "legendY": 37, "values": ["Fitted"], "symbolType": "stroke", "symbolSize": 2401, "symbolStrokeWidth": 4, "labelOffset": 12}}
    }},
   {"data": {"values": [{}]}, "mark": {"type": "rule", "color": "#8000ff", "strokeWidth": 3},
    "encoding": {"x": {"datum": 689.2, "type": "quantitative", "scale": {"domain": [590, 730], "nice": false, "zero": false}, "axis": null}, "x2": {"datum": 678.2}, "y": {"datum": 13.9, "type": "quantitative", "scale": {"domain": [-1.5, 40], "nice": false, "zero": false}, "axis": null}, "y2": {"datum": 10.7}}},
   {"data": {"values": [{}]}, "mark": {"type": "point", "shape": "triangle-up", "filled": true, "color": "#8000ff", "size": 200, "angle": 232, "opacity": 1},
    "encoding": {"x": {"datum": 678.7, "type": "quantitative", "scale": {"domain": [590, 730], "nice": false, "zero": false}, "axis": null}, "y": {"datum": 10.8, "type": "quantitative", "scale": {"domain": [-1.5, 40], "nice": false, "zero": false}, "axis": null}}},
   {"data": {"values": [{}]}, "mark": {"type": "rule", "color": "#008000", "strokeWidth": 3},
    "encoding": {"x": {"datum": 707, "type": "quantitative", "scale": {"domain": [590, 730], "nice": false, "zero": false}, "axis": null}, "x2": {"datum": 696.5}, "y": {"datum": 6.0, "type": "quantitative", "scale": {"domain": [-1.5, 40], "nice": false, "zero": false}, "axis": null}, "y2": {"datum": 3.0}}},
   {"data": {"values": [{}]}, "mark": {"type": "point", "shape": "triangle-up", "filled": true, "color": "#008000", "size": 200, "angle": 233, "opacity": 1},
    "encoding": {"x": {"datum": 696.9, "type": "quantitative", "scale": {"domain": [590, 730], "nice": false, "zero": false}, "axis": null}, "y": {"datum": 3.1, "type": "quantitative", "scale": {"domain": [-1.5, 40], "nice": false, "zero": false}, "axis": null}}},
   {"data": {"values": [{}]}, "mark": {"type": "text", "color": "#0000ff", "align": "center", "baseline": "middle"},
    "encoding": {"x": {"datum": 626, "type": "quantitative", "scale": {"domain": [590, 730], "nice": false, "zero": false}, "axis": null}, "y": {"datum": 5.1, "type": "quantitative", "scale": {"domain": [-1.5, 40], "nice": false, "zero": false}, "axis": null}, "text": {"value": "B"}}},
   {"data": {"values": [{}]}, "mark": {"type": "text", "color": "#ff00ff", "align": "center", "baseline": "middle"},
    "encoding": {"x": {"datum": 662.3, "type": "quantitative", "scale": {"domain": [590, 730], "nice": false, "zero": false}, "axis": null}, "y": {"datum": 23.0, "type": "quantitative", "scale": {"domain": [-1.5, 40], "nice": false, "zero": false}, "axis": null}, "text": {"value": "A⁰"}}},
   {"data": {"values": [{}]}, "mark": {"type": "text", "color": "#8000ff", "align": "center", "baseline": "middle"},
    "encoding": {"x": {"datum": 694, "type": "quantitative", "scale": {"domain": [590, 730], "nice": false, "zero": false}, "axis": null}, "y": {"datum": 14.2, "type": "quantitative", "scale": {"domain": [-1.5, 40], "nice": false, "zero": false}, "axis": null}, "text": {"value": "A⁻"}}},
   {"data": {"values": [{}]}, "mark": {"type": "text", "color": "#008000", "align": "center", "baseline": "middle"},
    "encoding": {"x": {"datum": 710.3, "type": "quantitative", "scale": {"domain": [590, 730], "nice": false, "zero": false}, "axis": null}, "y": {"datum": 5.8, "type": "quantitative", "scale": {"domain": [-1.5, 40], "nice": false, "zero": false}, "axis": null}, "text": {"value": "X"}}},
   {"data": {"values": [{}]}, "mark": {"type": "text", "color": "#000000", "align": "left", "baseline": "middle"},
    "encoding": {"x": {"datum": 593.5, "type": "quantitative", "scale": {"domain": [590, 730], "nice": false, "zero": false}, "axis": null}, "y": {"datum": 37.4, "type": "quantitative", "scale": {"domain": [-1.5, 40], "nice": false, "zero": false}, "axis": null}, "text": {"value": "Au/MoS₂"}}},
   {"data": {"values": [{}]}, "mark": {"type": "text", "color": "#000000", "align": "center", "baseline": "middle"},
    "encoding": {"x": {"datum": 568.9, "type": "quantitative", "scale": {"domain": [590, 730], "nice": false, "zero": false}, "axis": null}, "y": {"datum": 38.3, "type": "quantitative", "scale": {"domain": [-1.5, 40], "nice": false, "zero": false}, "axis": null}, "text": {"value": "(c)"}}}
  ]
 },
 {"width": 170, "height": 1, "view": {"stroke": null}, "data": {"values": [{}]}, "mark": {"type": "point", "opacity": 0}},
 {
  "width": 631, "height": 491,
  "resolve": {"axis": {"x": "independent", "y": "independent"}},
  "layer": [
   {"data": {"name": "d_expt"}, "mark": {"type": "line", "stroke": "#000000", "strokeWidth": 9, "interpolate": "monotone"},
    "encoding": {
     "x": {"field": "wl", "type": "quantitative", "scale": {"domain": [590, 730], "nice": false, "zero": false}, "axis": {"orient": "bottom", "values": [600, 620, 640, 660, 680, 700, 720], "title": "Wavelength (nm)", "labelPadding": 7, "titlePadding": 11}},
     "y": {"field": "val", "type": "quantitative", "scale": {"domain": [-7, 80], "nice": false, "zero": false}, "axis": {"orient": "left", "values": [0, 20, 40, 60, 80], "title": "PL intensity × 10⁴ (a.u.)", "labelPadding": 6, "titlePadding": 15}}
    }},
   {"data": {"name": "d_expt"}, "mark": {"type": "point", "filled": true, "size": 60, "stroke": "#8c8c8c", "strokeWidth": 0.8, "opacity": 1},
    "encoding": {
     "x": {"field": "wl", "type": "quantitative", "scale": {"domain": [590, 730], "nice": false, "zero": false}, "axis": null},
     "y": {"field": "val", "type": "quantitative", "scale": {"domain": [-7, 80], "nice": false, "zero": false}, "axis": null},
     "color": {"datum": "Expt", "type": "nominal", "scale": {"domain": ["Expt"], "range": ["#000000"]}, "legend": {"title": null, "orient": "none", "legendX": 481, "legendY": 10, "symbolType": "circle", "symbolSize": 380, "symbolFillColor": "#000000", "symbolStrokeColor": "#666666", "symbolStrokeWidth": 1, "labelOffset": 19}}
    }},
   {"data": {"name": "d_fit"}, "transform": [{"filter": "datum.comp !== 'Fitted'"}], "mark": {"type": "line", "strokeWidth": 2.5, "interpolate": "monotone"},
    "encoding": {
     "x": {"field": "wl", "type": "quantitative", "scale": {"domain": [590, 730], "nice": false, "zero": false}, "axis": null},
     "y": {"field": "val", "type": "quantitative", "scale": {"domain": [-7, 80], "nice": false, "zero": false}, "axis": null},
     "stroke": {"field": "comp", "type": "nominal", "scale": {"domain": ["Fitted", "B", "A⁰", "A⁻", "X"], "range": ["#ff0000", "#0000ff", "#ff00ff", "#8000ff", "#008000"]}, "legend": {"title": null, "orient": "none", "legendX": 466, "legendY": 37, "values": ["Fitted"], "symbolType": "stroke", "symbolSize": 2704, "symbolStrokeWidth": 2.5, "labelOffset": 11}}
    }},
   {"data": {"name": "d_fit"}, "transform": [{"filter": "datum.comp === 'Fitted'"}], "mark": {"type": "line", "strokeWidth": 3, "interpolate": "monotone"},
    "encoding": {
     "x": {"field": "wl", "type": "quantitative", "scale": {"domain": [590, 730], "nice": false, "zero": false}, "axis": {"orient": "bottom", "values": [590, 610, 630, 650, 670, 690, 710, 730], "labels": false, "domain": false, "title": null, "tickSize": 6}},
     "y": {"field": "val", "type": "quantitative", "scale": {"domain": [-7, 80], "nice": false, "zero": false}, "axis": {"orient": "left", "values": [10, 30, 50, 70], "labels": false, "domain": false, "title": null, "tickSize": 6}},
     "stroke": {"field": "comp", "type": "nominal", "scale": {"domain": ["Fitted", "B", "A⁰", "A⁻", "X"], "range": ["#ff0000", "#0000ff", "#ff00ff", "#8000ff", "#008000"]}, "legend": {"title": null, "orient": "none", "legendX": 466, "legendY": 37, "values": ["Fitted"], "symbolType": "stroke", "symbolSize": 2704, "symbolStrokeWidth": 2.5, "labelOffset": 11}}
    }},
   {"data": {"values": [{}]}, "mark": {"type": "text", "color": "#0000ff", "align": "center", "baseline": "middle"},
    "encoding": {"x": {"datum": 626.6, "type": "quantitative", "scale": {"domain": [590, 730], "nice": false, "zero": false}, "axis": null}, "y": {"datum": 7.5, "type": "quantitative", "scale": {"domain": [-7, 80], "nice": false, "zero": false}, "axis": null}, "text": {"value": "B"}}},
   {"data": {"values": [{}]}, "mark": {"type": "text", "color": "#ff00ff", "align": "center", "baseline": "middle"},
    "encoding": {"x": {"datum": 659.5, "type": "quantitative", "scale": {"domain": [590, 730], "nice": false, "zero": false}, "axis": null}, "y": {"datum": 56.3, "type": "quantitative", "scale": {"domain": [-7, 80], "nice": false, "zero": false}, "axis": null}, "text": {"value": "A⁰"}}},
   {"data": {"values": [{}]}, "mark": {"type": "text", "color": "#008000", "align": "center", "baseline": "middle"},
    "encoding": {"x": {"datum": 696.7, "type": "quantitative", "scale": {"domain": [590, 730], "nice": false, "zero": false}, "axis": null}, "y": {"datum": 6.9, "type": "quantitative", "scale": {"domain": [-7, 80], "nice": false, "zero": false}, "axis": null}, "text": {"value": "X"}}},
   {"data": {"values": [{}]}, "mark": {"type": "text", "color": "#000000", "align": "left", "baseline": "middle"},
    "encoding": {"x": {"datum": 591.5, "type": "quantitative", "scale": {"domain": [590, 730], "nice": false, "zero": false}, "axis": null}, "y": {"datum": 73.3, "type": "quantitative", "scale": {"domain": [-7, 80], "nice": false, "zero": false}, "axis": null}, "text": {"value": "TiO₂/Au/MoS₂"}}},
   {"data": {"values": [{}]}, "mark": {"type": "text", "color": "#000000", "align": "center", "baseline": "middle"},
    "encoding": {"x": {"datum": 570.7, "type": "quantitative", "scale": {"domain": [590, 730], "nice": false, "zero": false}, "axis": null}, "y": {"datum": 76.4, "type": "quantitative", "scale": {"domain": [-7, 80], "nice": false, "zero": false}, "axis": null}, "text": {"value": "(d)"}}}
  ]
 }
]
}
